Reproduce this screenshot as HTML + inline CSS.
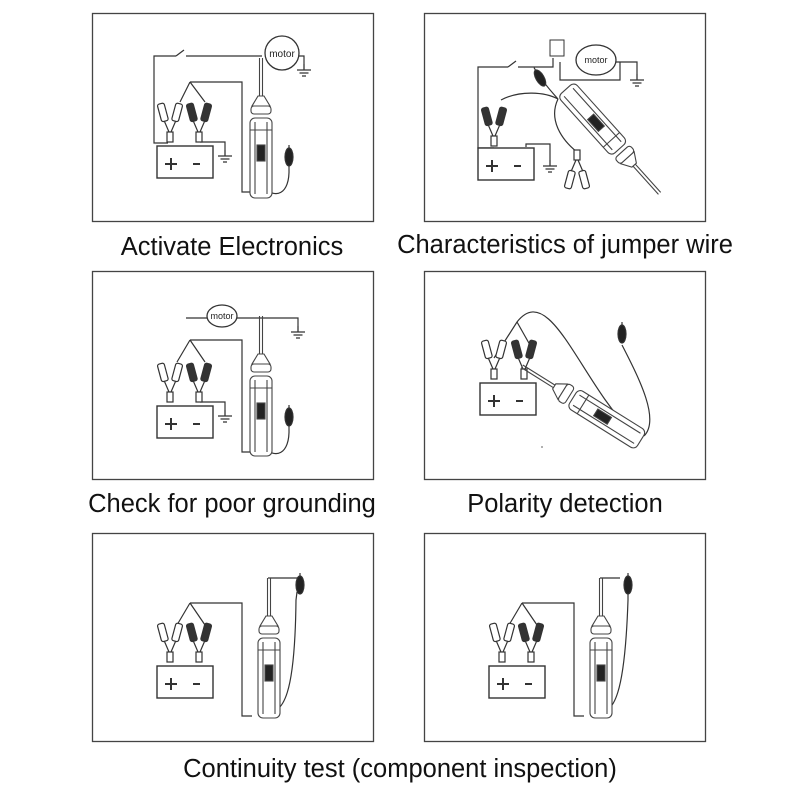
<!DOCTYPE html>
<html><head><meta charset="utf-8"><style>
body{margin:0;background:#fff;width:800px;height:800px;overflow:hidden}
svg{display:block}
text{font-family:"Liberation Sans",sans-serif}
.lbl{font-size:25.5px;fill:#111;font-weight:500}
</style></head><body>
<svg width="800" height="800" viewBox="0 0 800 800" xmlns="http://www.w3.org/2000/svg">
<defs>
<g id="bat" fill="none" stroke="#333" stroke-width="1.4">
<rect x="0" y="0" width="56" height="32" fill="#fff"/>
<path d="M8 18h12M14 12v12M36 18h7" stroke-width="2"/>
</g>
<g id="clw" stroke="#333" stroke-width="1.2">
<rect x="-3" y="-10" width="6" height="10" fill="#fff"/>
<path d="M-1 -10 L-7 -24 M1 -10 L7 -24" fill="none"/>
<rect x="-4" y="-40" width="7" height="18" rx="2" fill="#fff" transform="rotate(-15 -1 -24)translate(-5 0)"/>
<rect x="-3" y="-40" width="7" height="18" rx="2" fill="#fff" transform="rotate(15 1 -24)translate(5 0)"/>
</g>
<g id="clb" stroke="#333" stroke-width="1.2">
<rect x="-3" y="-10" width="6" height="10" fill="#fff"/>
<path d="M-1 -10 L-7 -24 M1 -10 L7 -24" fill="none"/>
<rect x="-4" y="-40" width="7" height="18" rx="2" fill="#333" transform="rotate(-15 -1 -24)translate(-5 0)"/>
<rect x="-3" y="-40" width="7" height="18" rx="2" fill="#333" transform="rotate(15 1 -24)translate(5 0)"/>
</g>
<g id="probe" stroke="#444" stroke-width="1.1" fill="#fff">
<path d="M-1.5 -42 V-4 M1.5 -42 V-4" fill="none"/>
<path d="M-3 -4 L-9 6 H9 L3 -4 Z"/>
<rect x="-10" y="6" width="20" height="8" rx="3"/>
<rect x="-11" y="18" width="22" height="80" rx="5"/>
<path d="M-6 22 V94 M6 22 V94 M-11 30 H11" fill="none"/>
<rect x="-4" y="45" width="8" height="16" fill="#222"/>
</g>
<g id="gnd" stroke="#333" stroke-width="1.3"><path d="M0 0V6M-7 6H7M-4.5 9H4.5M-2 12H2"/></g>
<g id="alli" stroke="#333" stroke-width="1.2"><ellipse cx="0" cy="0" rx="4" ry="9" fill="#222"/><path d="M0 -12V-9" /></g>
</defs>

<g fill="none" stroke="#444" stroke-width="1.3">
<rect x="92.5" y="13.5" width="281" height="208"/>
<rect x="424.5" y="13.5" width="281" height="208"/>
<rect x="92.5" y="271.5" width="281" height="208"/>
<rect x="424.5" y="271.5" width="281" height="208"/>
<rect x="92.5" y="533.5" width="281" height="208"/>
<rect x="424.5" y="533.5" width="281" height="208"/>
</g>

<!-- Panel 1 -->
<g fill="none" stroke="#333" stroke-width="1.2">
<path d="M168 143 H154 V56 H176 M186 56 H262"/>
<path d="M176 56 L184 50"/>
<path d="M190 82 L180 102 M190 82 L205 102 M190 82 H242 V192 H252"/>
<path d="M200 142 H225 V150"/>
<path d="M297 56 H304 V64"/>
<path d="M262 186 C275 200 290 195 289 168 L289 160"/>
</g>
<use href="#bat" x="157" y="146"/>
<use href="#clw" x="170" y="142"/>
<use href="#clb" x="199" y="142"/>
<use href="#gnd" x="225" y="150"/>
<use href="#gnd" x="304" y="64"/>
<use href="#probe" x="261" y="100"/>
<use href="#alli" x="289" y="157"/>
<circle cx="282" cy="53" r="17" fill="#fff" stroke="#333" stroke-width="1.3"/>
<text x="282" y="57" font-size="10" text-anchor="middle" fill="#222">motor</text>

<!-- Panel 2 -->
<g fill="none" stroke="#333" stroke-width="1.2">
<path d="M494 148 H478 V67 H508 M518 67 H553 V58"/>
<path d="M508 67 L516 61"/>
<path d="M526 147 V144 H550 V160"/>
<path d="M501 100 C520 90 545 92 558 99"/>
<path d="M539 75 C545 85 552 92 558 99"/>
<path d="M610 62 H637 V74"/>
<path d="M560 62 V80 H620 V62"/>
<path d="M558 99 C548 120 562 140 577 152"/>
</g>
<use href="#bat" x="478" y="148"/>
<use href="#clb" x="494" y="146"/>
<use href="#gnd" x="550" y="160"/>
<g transform="translate(577 150) rotate(180)"><use href="#clw" x="0" y="0"/></g>
<use href="#gnd" x="637" y="74"/>
<g transform="translate(598 125) rotate(138)">
<use href="#probe" x="0" y="-50"/>
</g>
<use href="#alli" x="540" y="78" transform="rotate(-30 540 78)"/>
<rect x="550" y="40" width="14" height="16" fill="#fff" stroke="#333"/>
<ellipse cx="596" cy="60" rx="20" ry="15" fill="#fff" stroke="#333" stroke-width="1.3"/>
<text x="596" y="63" font-size="9" text-anchor="middle" fill="#222">motor</text>

<!-- Panel 3 -->
<g fill="none" stroke="#333" stroke-width="1.2">
<path d="M186 318 H208 M236 318 H298 V326"/>
<path d="M190 340 L177 362 M190 340 L205 362 M190 340 H242 V452 H252"/>
<path d="M200 402 H225 V410"/>
<path d="M262 446 C275 460 290 455 289 428 L289 420"/>
</g>
<use href="#bat" x="157" y="406"/>
<use href="#clw" x="170" y="402"/>
<use href="#clb" x="199" y="402"/>
<use href="#gnd" x="225" y="410"/>
<use href="#gnd" x="298" y="326"/>
<use href="#probe" x="261" y="358"/>
<use href="#alli" x="289" y="417"/>
<ellipse cx="222" cy="316" rx="15" ry="11" fill="#fff" stroke="#333" stroke-width="1.3"/>
<text x="222" y="319" font-size="9" text-anchor="middle" fill="#222">motor</text>

<!-- Panel 4 -->
<g fill="none" stroke="#333" stroke-width="1.2">
<path d="M494 358 L517 322 C550 280 580 380 630 430 L640 436"/>
<path d="M517 322 L530 345"/>
<path d="M644 436 C660 420 640 380 622 345"/>
</g>
<use href="#bat" x="480" y="383"/>
<use href="#clw" x="494" y="379"/>
<use href="#clb" x="524" y="379"/>
<g transform="translate(600 415) rotate(-58)"><use href="#probe" x="0" y="-50"/></g>
<use href="#alli" x="622" y="334"/>
<circle cx="542" cy="447" r="1" fill="#999"/>

<!-- Panel 5 -->
<g fill="none" stroke="#333" stroke-width="1.2">
<path d="M190 603 L177 625 M190 603 H242 V716 H252"/>
<path d="M190 603 L205 625"/>
<path d="M268 578 H300"/>
<path d="M262 710 C285 720 295 690 296 600 L297 592"/>
</g>
<use href="#bat" x="157" y="666"/>
<use href="#clw" x="170" y="662"/>
<use href="#clb" x="199" y="662"/>
<use href="#probe" x="269" y="620"/>
<use href="#alli" x="300" y="585"/>

<!-- Panel 6 -->
<g fill="none" stroke="#333" stroke-width="1.2">
<path d="M522 603 L509 625 M522 603 H574 V716 H584"/>
<path d="M522 603 L537 625"/>
<path d="M600 578 H620"/>
<path d="M594 710 C615 720 625 690 628 600 L628 592"/>
</g>
<use href="#bat" x="489" y="666"/>
<use href="#clw" x="502" y="662"/>
<use href="#clb" x="531" y="662"/>
<use href="#probe" x="601" y="620"/>
<use href="#alli" x="628" y="585"/>

<text class="lbl" x="232" y="255" text-anchor="middle">Activate Electronics</text>
<text class="lbl" x="565" y="253" text-anchor="middle">Characteristics of jumper wire</text>
<text class="lbl" x="232" y="512" text-anchor="middle">Check for poor grounding</text>
<text class="lbl" x="565" y="512" text-anchor="middle">Polarity detection</text>
<text class="lbl" x="400" y="777" text-anchor="middle">Continuity test (component inspection)</text>
</svg>
</body></html>
